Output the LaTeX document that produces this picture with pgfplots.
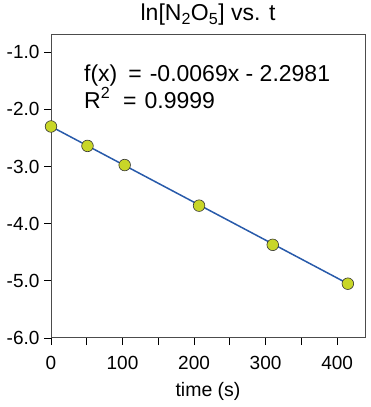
\documentclass[border=0pt]{standalone}
\usepackage{fontspec}
\setmainfont{Liberation Sans}
\usepackage{pgfplots}
\pgfplotsset{compat=1.18}
\usetikzlibrary{calc}
\definecolor{ptfill}{RGB}{200,214,40}
\definecolor{linecol}{RGB}{40,90,170}
\begin{document}
\begin{tikzpicture}
\begin{axis}[
  name=ax,
  scale only axis, width=314pt, height=303pt,
  xmin=0, xmax=439, ymin=-6, ymax=-0.7,
  xtick={0,100,...,400}, minor xtick={50,150,250,350},
  ytick={-6,-5,-4,-3,-2,-1},
  tick align=outside, xtick pos=bottom, ytick pos=left,
  major tick length=7pt, minor tick length=7pt,
  every tick/.style={black, line width=0.8pt},
  every minor tick/.style={black, line width=0.8pt},
  axis line style={black!70, line width=1pt},
  /pgf/number format/assume math mode=true,
  yticklabel={\pgfmathprintnumber[assume math mode=true,fixed,fixed zerofill,precision=1]{\tick}},
  ticklabel style={font=\fontsize{19}{22}\selectfont},
  xticklabel style={yshift=-8pt},
  yticklabel style={xshift=-1pt},
  xlabel={time (s)},
  xlabel style={font=\fontsize{19.5}{22}\selectfont, at={(axis description cs:0.5,0)}, anchor=base, yshift=-58pt},
  title={ln[N\textsubscript{2}O\textsubscript{5}] vs. t},
  title style={font=\fontsize{23}{26}\selectfont, at={(axis description cs:0.5,1)}, anchor=base, yshift=8pt},
]
\addplot[linecol, line width=1.5pt] coordinates {(0,-2.30) (415,-5.05)};
\addplot[only marks, mark=*, mark size=5.8pt, mark options={fill=ptfill, draw=black!80, line width=0.6pt}] coordinates {
  (0,-2.30) (51,-2.64) (103,-2.975) (207,-3.685) (310,-4.37) (415,-5.05)
};
\node[anchor=base west, font=\fontsize{23}{26}\selectfont, inner sep=0pt] at (rel axis cs:0.105,0.846) {f(x)\hspace{11pt}=\hspace{8pt}-0.0069x - 2.2981};
\node[anchor=base west, font=\fontsize{23}{26}\selectfont, inner sep=0pt] at (rel axis cs:0.105,0.759) {R\textsuperscript{2}\hspace{13pt}=\hspace{8pt}0.9999};
\end{axis}
\pgfresetboundingbox
\path[use as bounding box] ($(ax.south west)+(-51pt,-69pt)$) rectangle ($(ax.north east)+(5pt,35pt)$);
\end{tikzpicture}
\end{document}
